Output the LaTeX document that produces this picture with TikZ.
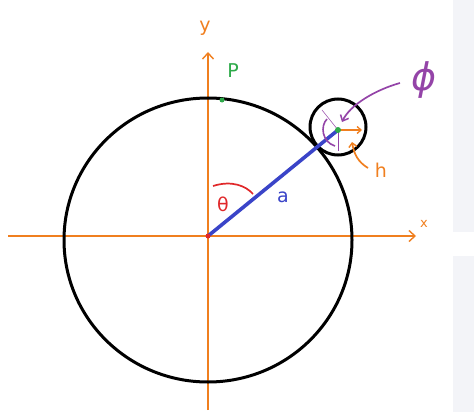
\documentclass[tikz,border=0pt]{standalone}
\usepackage{fontspec}
\setmainfont{DejaVu Sans}
\usetikzlibrary{arrows.meta}
\definecolor{axo}{HTML}{F07F1F}
\definecolor{pgreen}{HTML}{2EAA4A}
\definecolor{pblue}{HTML}{3A44C8}
\definecolor{ppurple}{HTML}{9444A8}
\definecolor{pred}{HTML}{E0282A}
\definecolor{panel}{HTML}{F3F4F8}
\tikzset{
  axis/.style={axo, line width=1.4pt},
  handlbl/.style={font=\fontsize{19}{19}\selectfont},
  tipO/.style={-{Straight Barb[length=6pt,width=11pt,line width=1.4pt]}},
}
\begin{document}
\begin{tikzpicture}[x=1pt,y=-1pt]
\useasboundingbox (0,0) rectangle (474,412);
% side panels
\fill[panel] (453,0) rectangle (474,232);
\fill[panel] (453,256) rectangle (474,412);
% coordinates
\coordinate (O) at (208,236);
\coordinate (yb) at (208,410);
\coordinate (yt) at (208,52);
\coordinate (xl) at (8,236);
\coordinate (xr) at (416,236);
\coordinate (C) at (338,130);
% axes
\draw[axis, tipO] (yb) -- (yt);
\draw[axis, tipO] (xl) -- (xr);
\node[axo, handlbl] (ylab) at (205,28) {y};
\node[axo, font=\fontsize{13}{13}\selectfont] (xlab) at (424,224) {x};
% big circle
\draw[line width=3pt] (208,240) ellipse [x radius=144, y radius=142];
% small circle
\draw[line width=3pt] (338,127) circle [radius=28];
% rod a
\draw[pblue, line width=3.6pt] (O) -- (C);
\node[pblue, handlbl] (alab) at (283,197) {a};
% theta
\draw[pred, line width=1.7pt] (213,186) .. controls (232,180) and (246,186) .. (253,194);
\node[pred, handlbl] (tlab) at (223,204) {θ};
\fill[pred] (O) circle [radius=2.5];
% P
\fill[pgreen] (222,100) circle [radius=2.5];
\node[pgreen, handlbl] (plab) at (233,71) {P};
% phi construction
\draw[ppurple, line width=0.5pt] (C) -- (322,110);
\draw[ppurple, line width=0.5pt] (C) -- (338,151);
\draw[ppurple, line width=1.6pt] (327,119) .. controls (320,126) and (322,142) .. (335,146);
\draw[axo, line width=1.8pt, -{Straight Barb[length=4pt,width=7pt,line width=1.3pt]}] (C) -- (362,130);
\fill[pgreen] (C) circle [radius=3];
% phi arrow and label
\coordinate (phiS) at (400,83);
\coordinate (phiE) at (342,122);
\draw[ppurple, line width=1.7pt, -{Straight Barb[length=5pt,width=9pt,line width=1.5pt]}] (phiS) .. controls (375,90) and (350,105) .. (phiE);
\node[ppurple, font=\fontsize{38}{38}\selectfont\itshape] (philab) at (424,80) {ϕ};
% h arrow and label
\coordinate (hS) at (368,168);
\coordinate (hE) at (352,142);
\draw[axo, line width=1.7pt, -{Straight Barb[length=4pt,width=8pt,line width=1.4pt]}] (hS) .. controls (358,162) and (354,154) .. (hE);
\node[axo, handlbl] (hlab) at (381,170) {h};
\end{tikzpicture}
\end{document}
